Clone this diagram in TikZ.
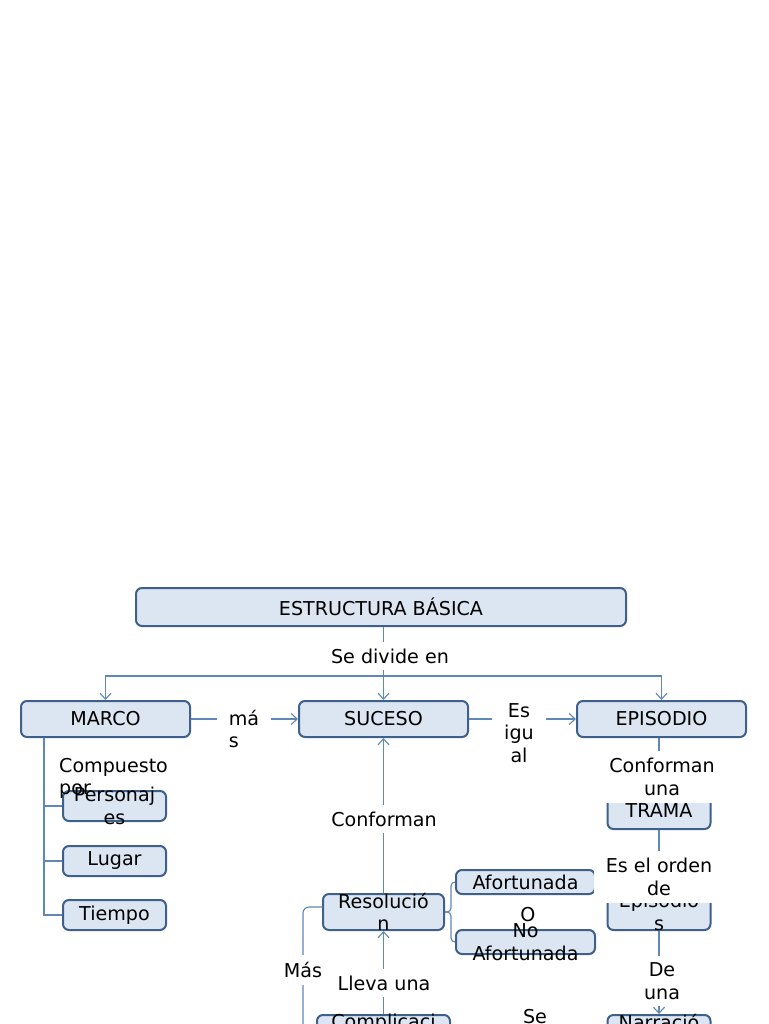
\documentclass[tikz,border=0pt]{standalone}
\usepackage{fontspec}
\setmainfont{DejaVu Sans}
\usepackage{tikz}
\usetikzlibrary{arrows.meta, positioning}
\definecolor{boxfill}{RGB}{220,230,242}
\definecolor{boxline}{RGB}{64,96,140}
\definecolor{linkblue}{RGB}{95,135,185}
\newcommand{\mapfont}{\fontsize{19.1}{22.5}\selectfont}
\tikzset{
  box/.style={rectangle,draw=boxline,fill=boxfill,rounded corners=6pt,line width=2pt,
    align=center,font=\mapfont,inner xsep=0pt,inner ysep=-12pt},
  lbl/.style={fill=white,align=center,font=\mapfont,inner xsep=12pt,inner ysep=7pt},
  txt/.style={align=center,font=\mapfont,inner sep=0pt},
  arrow/.style={-{Straight Barb[length=6pt,width=11pt]},line width=1.1pt,color=linkblue},
  line/.style={line width=1.1pt,color=linkblue}
}

\begin{document}
\begin{tikzpicture}[x=1pt,y=-1pt,
  wbox/.style={box,minimum width=169pt,minimum height=36pt},
  sbox/.style={box,minimum width=103pt,minimum height=30pt}]
  \useasboundingbox (0,0) rectangle (768,1024);
  \clip (0,0) rectangle (768,1024);
  \fill[white] (0,0) rectangle (768,1024);

  % cajas
  \node[box,minimum width=490pt,minimum height=38pt] (estr) at (381,607) {ESTRUCTURA BÁSICA};
  \node[wbox] (marco) at (105.5,719) {MARCO};
  \node[wbox] (suceso) at (383.5,719) {SUCESO};
  \node[wbox] (episodio) at (661.5,719) {EPISODIO};

  \node[sbox] (pers) at (114.5,806) {Personaj\\es};
  \node[sbox, below=23pt of pers] (lugar) {Lugar};
  \node[sbox, below=22pt of lugar] (tiempo) {Tiempo};

  \node[box,minimum width=121pt,minimum height=36pt] (resol) at (383.5,912) {Resolució\\n};
  \node[box,minimum width=139pt,minimum height=24pt] (afort) at (525.5,882) {Afortunada};
  \node[box,minimum width=139pt,minimum height=24pt, below=34pt of afort] (noafort) {No\\Afortunada};
  \node[box,minimum width=133pt,minimum height=36pt] (compl) at (383.5,1033) {Complicaci\\ón};

  \node[box,minimum width=103pt,minimum height=36pt] (trama) at (659,811) {TRAMA};
  \node[box,minimum width=103pt,minimum height=36pt] (episodios) at (659,912) {Episodio\\s};
  \node[box,minimum width=103pt,minimum height=36pt] (narr) at (659,1033) {Narració\\n};

  % conectores
  \coordinate (split) at (383.5,676);
  \draw[line] (estr.south -| split) -- (split);
  \draw[arrow] (split) -| (marco.north);
  \draw[arrow] (split) -- (suceso.north);
  \draw[arrow] (split) -| (episodio.north);
  \draw[arrow] (marco) -- (suceso);
  \draw[arrow] (suceso) -- (episodio);

  \draw[line] ([xshift=24pt]marco.south west) |- (tiempo.west);
  \draw[line] ([xshift=24pt]marco.south west) |- (pers.west);
  \draw[line] ([xshift=24pt]marco.south west) |- (lugar.west);

  \draw[arrow] (resol) -- (suceso);
  \draw[arrow] (compl) -- (resol);
  \draw[line,rounded corners=4pt] (resol.east) -- ++(6,0) |- (afort.west);
  \draw[line,rounded corners=4pt] (resol.east) -- ++(6,0) |- (noafort.west);
  \coordinate (masend) at (303,1060);
  \draw[line,rounded corners=6pt] ([yshift=5pt]resol.west) -| (masend);

  \draw[arrow] (episodio.south -| trama.north) -- (trama.north);
  \draw[arrow] (trama) -- (episodios);
  \draw[arrow] (episodios) -- (narr);

  % etiquetas
  \node[lbl] (divide) at (390,656) {Se divide en};
  \node[lbl,align=left] (mas) at (244,729) {má\\s};
  \node[lbl] (esigual) at (519,733) {Es\\igu\\al};
  \node[txt,anchor=north west,align=left] (compuesto) at (59,758) {Compuesto\\por};
  \node[lbl] (conforma) at (384,819) {Conforman};
  \node[lbl] (conformb) at (662,777) {Conforman\\una};
  \node[lbl] (orden) at (659,877) {Es el orden\\de};
  \node[lbl] (deuna) at (662,981) {De\\una};
  \node[txt] (omark) at (528,915) {O};
  \node[lbl] (masb) at (303,970) {Más};
  \node[lbl] (lleva) at (384,983) {Lleva una};
  \node[txt] (se) at (535,1017) {Se};
\end{tikzpicture}
\end{document}
